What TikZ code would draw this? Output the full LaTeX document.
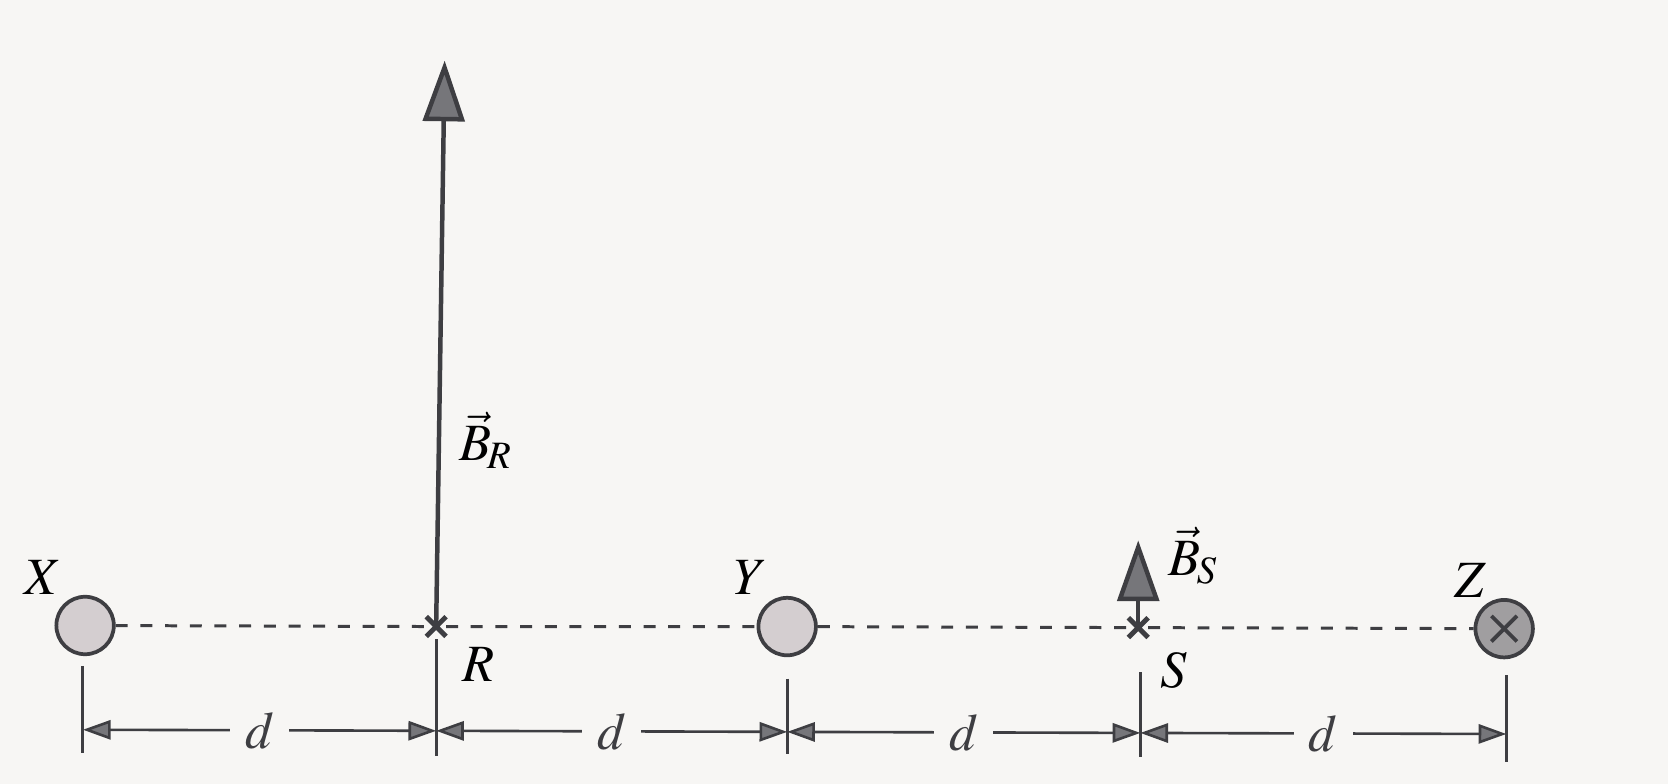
\documentclass[tikz,border=0pt]{standalone}
\usepackage{mathptmx}
\usetikzlibrary{arrows.meta,calc,shapes.misc}
\definecolor{paper}{RGB}{247,246,244}
\definecolor{ink}{RGB}{62,62,66}
\definecolor{headgray}{RGB}{118,118,122}
\definecolor{wirefill}{RGB}{212,206,208}
\definecolor{zfill}{RGB}{160,158,160}

\begin{document}
\begin{tikzpicture}[x=0.01cm, y=-0.01cm,
    every node/.style={font=\fontsize{14}{16}\selectfont},
    wire/.style={circle, draw=ink, line width=1pt, fill=wirefill, minimum size=0.54cm, inner sep=0pt},
    ptmark/.style={cross out, draw=ink, line width=1.3pt, minimum size=0.14cm, inner sep=0pt},
    guide/.style={ink, line width=0.8pt, dash pattern=on 3.2pt off 3.4pt},
    field/.style={ink, line width=1.2pt, -{Triangle[length=0.57cm, width=0.39cm, fill=headgray]}},
    dim/.style={ink, line width=0.7pt, {Triangle[length=0.26cm, width=0.18cm, fill=headgray]}-{Triangle[length=0.26cm, width=0.18cm, fill=headgray]}},
    dlabel/.style={midway, fill=paper, inner xsep=0.14cm, inner ysep=1pt},
    tickline/.style={ink, line width=0.8pt}]

    % paper
    \fill[paper] (0,0) rectangle (1568,737);

    % wires and field points
    \node[wire] (X) at (80,588) {};
    \node[wire] (Y) at (740,589) {};
    \node[wire, fill=zfill] (Z) at (1414,591) {};
    \node[ptmark] (R) at (410,589) {};
    \node[ptmark] (S) at (1070,590) {};

    % current into the page at Z
    \draw[ink, line width=1pt] ($(Z)+(-12,-12)$) -- ($(Z)+(12,12)$);
    \draw[ink, line width=1pt] ($(Z)+(-12,12)$) -- ($(Z)+(12,-12)$);

    % line through the wires
    \draw[guide] (X) -- (R) -- (Y) -- (S) -- (Z);

    % field vectors
    \coordinate (BRtip) at (418,57);
    \coordinate (BStip) at (1070,508);
    \draw[field] (R.center) -- (BRtip);
    \draw[field] (S.center) -- (BStip);

    % labels
    \node (lX) at (40,543) {$X$};
    \node (lY) at (706,543) {$Y$};
    \node (lZ) at (1382,546) {$Z$};
    \node (lR) at (450,625) {$R$};
    \node (lS) at (1103,630) {$S$};
    \node (lBR) at (457,414) {$\vec{B}_{\!R}$};
    \node (lBS) at (1122,522) {$\vec{B}_{\!S}$};

    % dimension lines
    \coordinate (dX) at (78,686);
    \coordinate (dR) at (410,687);
    \coordinate (dY) at (740,688);
    \coordinate (dS) at (1072,689);
    \coordinate (dZ) at (1416,690);
    \foreach \p/\a/\b in {dX/60/22, dR/86/24, dY/50/21, dS/57/23, dZ/55/26}
        \draw[tickline] ($(\p)+(0,-\a)$) -- ($(\p)+(0,\b)$);

    \draw[dim] (dX) -- (dR) node[dlabel] {$d$};
    \draw[dim] (dR) -- (dY) node[dlabel] {$d$};
    \draw[dim] (dY) -- (dS) node[dlabel] {$d$};
    \draw[dim] (dS) -- (dZ) node[dlabel] {$d$};

\end{tikzpicture}
\end{document}
